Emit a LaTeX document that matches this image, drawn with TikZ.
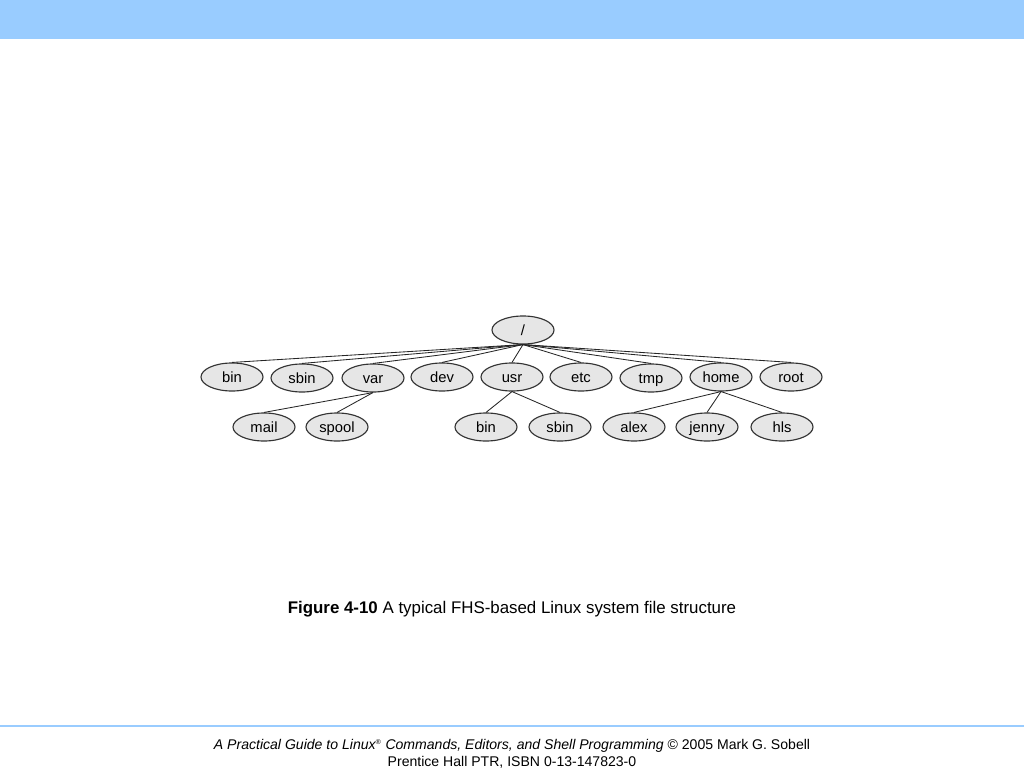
\documentclass[tikz,border=0pt]{standalone}
\usepackage{fontspec}
\setmainfont{Liberation Sans}
\usetikzlibrary{shapes.geometric}
\definecolor{bandblue}{HTML}{99CCFF}
\definecolor{dirgray}{HTML}{E6E6E6}
\tikzset{
  dir/.style={ellipse, draw=black!80, fill=dirgray, line width=0.8pt, minimum width=1.55cm,
    minimum height=0.7cm, inner sep=0pt, text height=1.6ex, text depth=0.1ex,
    font=\fontsize{10.5}{12}\selectfont},
  link/.style={draw=black!85, line width=0.6pt}
}
\begin{document}
\begin{tikzpicture}[x=0.025cm, y=-0.025cm]
 \useasboundingbox (0,0) rectangle (1024,768);

 \fill[bandblue] (0,0) rectangle (1024,39);
 \draw[bandblue, line width=1.5pt] (0,726) -- (1024,726);

 \node[dir] (top) at (523,330) {/};

 \node[dir] (bin)   at (232,377) {bin};
 \node[dir] (sbin)  at (302,378) {sbin};
 \node[dir] (var)   at (373,378) {var};
 \node[dir] (dev)   at (442,377) {dev};
 \node[dir] (usr)   at (512,377) {usr};
 \node[dir] (etc)   at (581,377) {etc};
 \node[dir] (tmp)   at (651,378) {tmp};
 \node[dir] (home)  at (721,377) {home};
 \node[dir] (rootd) at (791,377) {root};

 \node[dir] (mail)  at (264,427) {mail};
 \node[dir] (spool) at (337,427) {spool};
 \node[dir] (ubin)  at (486,427) {bin};
 \node[dir] (usbin) at (560,427) {sbin};
 \node[dir] (alex)  at (634,427) {alex};
 \node[dir] (jenny) at (707,427) {jenny};
 \node[dir] (hls)   at (782,427) {hls};

 \foreach \d in {bin,sbin,var,dev,usr,etc,tmp,home,rootd}
   \draw[link] (top.south) -- (\d.north);
 \draw[link] (var.south) -- (mail.north);
 \draw[link] (var.south) -- (spool.north);
 \draw[link] (usr.south) -- (ubin.north);
 \draw[link] (usr.south) -- (usbin.north);
 \draw[link] (home.south) -- (alex.north);
 \draw[link] (home.south) -- (jenny.north);
 \draw[link] (home.south) -- (hls.north);

 \node[font=\fontsize{12}{14}\selectfont] (caption) at (512,609)
   {\textbf{Figure 4-10} A typical FHS-based Linux system file structure};

 \node[font=\fontsize{10}{12}\selectfont, align=center] (credit) at (512,754)
   {\textit{A Practical Guide to Linux\textsuperscript{\tiny\textregistered} Commands, Editors, and Shell Programming} \textcopyright\ 2005 Mark G. Sobell\\
    Prentice Hall PTR, ISBN 0-13-147823-0};
\end{tikzpicture}
\end{document}
